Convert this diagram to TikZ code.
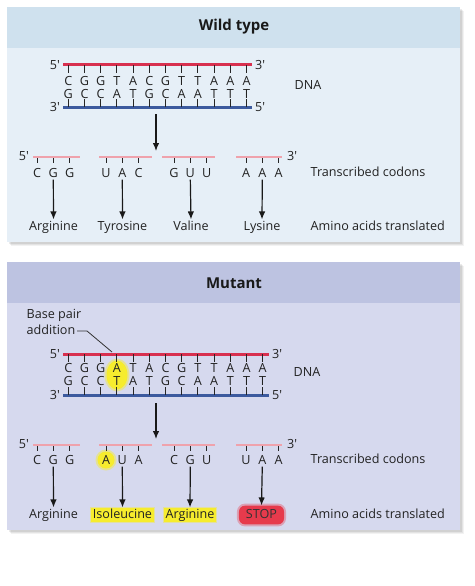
\documentclass[tikz,border=0pt]{standalone}
\usepackage{fontspec}
\setmainfont{Open Sans}
\usetikzlibrary{arrows.meta}
\definecolor{headA}{HTML}{CFE1EE}
\definecolor{bodyA}{HTML}{E6EFF7}
\definecolor{headB}{HTML}{BDC3E1}
\definecolor{bodyB}{HTML}{D6D9EE}
\definecolor{strandred}{HTML}{D8304F}
\definecolor{strandblue}{HTML}{3C5A9E}
\definecolor{mrna}{HTML}{EFA2AC}
\definecolor{hiyellow}{HTML}{F6EC2E}
\definecolor{stopred}{HTML}{E63A4C}
\definecolor{txt}{HTML}{222222}
\tikzset{
  lbl/.style={font=\fontsize{12.6}{14}\selectfont, text=txt, inner sep=1.5pt, text height=9pt, text depth=2.7pt},
  base/.style={font=\fontsize{12.6}{14}\selectfont, text=txt, inner sep=1pt, text height=9pt, text depth=0pt},
  prime/.style={font=\fontsize{12.6}{14}\selectfont, text=txt, inner xsep=3pt, inner ysep=0pt},
  title/.style={font=\fontsize{15}{17}\selectfont\bfseries, text=black!90},
  arr/.style={-{Latex[length=8pt,width=6.5pt]}, line width=1.2pt, black!90},
  tick/.style={line width=0.9pt, black!85},
  redline/.style={line width=3pt, strandred},
  blueline/.style={line width=3pt, strandblue},
  mline/.style={line width=2.6pt, mrna},
  hilite/.style={fill=hiyellow, inner xsep=2pt, preaction={draw=hiyellow, line width=2pt, opacity=0.4}},
  stopbox/.style={fill=stopred, rounded corners=6pt, inner xsep=7pt, inner ysep=3.5pt, text=black!80, preaction={draw=stopred, line width=4pt, opacity=0.35, rounded corners=6pt}},
}
\begin{document}
\begin{tikzpicture}[x=1pt,y=-1pt]
\useasboundingbox (0,0) rectangle (474,586);
\fill[white] (0,0) rectangle (474,586);
% ---------- panel shadows
\foreach \o/\op in {4/0.05,3/0.06,2/0.08} {
  \fill[black, opacity=\op] (7+\o,7+\o) rectangle (460+\o,242+\o);
  \fill[black, opacity=\op] (7+\o,262+\o) rectangle (460+\o,530+\o);
}
% ---------- Wild type panel
\fill[bodyA] (7,7) rectangle (460,242);
\fill[headA] (7,7) rectangle (460,48);
\node[title] (wt-title) at (234,27) {Wild type};
% DNA strands
\draw[redline] (63,65) coordinate (wt-ts) -- (252,65) coordinate (wt-te);
\draw[blueline] (63,107) coordinate (wt-bs) -- (252,107) coordinate (wt-be);
\node[prime, anchor=east] (wt-p5a) at (wt-ts) {5′};
\node[prime, anchor=west] (wt-p3a) at (wt-te) {3′};
\node[prime, anchor=east] (wt-p3b) at (wt-bs) {3′};
\node[prime, anchor=west] (wt-p5b) at (wt-be) {5′};
\foreach \b [count=\i] in {C,G,G,T,A,C,G,T,T,A,A,A} {
  \draw[tick] ({68.3+16.2*(\i-1)},65) -- ++(0,8);
  \node[base] (wt-t\i) at ({68.3+16.2*(\i-1)},81) {\b};
}
\foreach \b [count=\i] in {G,C,C,A,T,G,C,A,A,T,T,T} {
  \draw[tick] ({68.3+16.2*(\i-1)},107) -- ++(0,-8);
  \node[base] (wt-b\i) at ({68.3+16.2*(\i-1)},94) {\b};
}
\node[lbl, anchor=west] (wt-dna) at (293,86) {DNA};
\coordinate (wt-as) at (156,114);
\coordinate (wt-ae) at (156,151);
\draw[arr] (wt-as) -- (wt-ae);
% mRNA codons
\node[prime, anchor=east] (wt-m5) at (32,156) {5′};
\node[prime, anchor=west] (wt-m3) at (284,156) {3′};
\foreach \a/\b in {33/80,99/152,162/215,236/282} \draw[mline] (\a,157) -- (\b,157);
\foreach \b [count=\i] in {C,G,G,U,A,C,G,U,U,A,A,A} {
  \pgfmathsetmacro\g{int((\i-1)/3)}
  \pgfmathsetmacro\k{mod(\i-1,3)}
  \pgfmathsetmacro\xx{{37,106,174,246}[\g]+16.3*\k}
  \draw[tick] (\xx,158) -- ++(0,5);
  \node[base] (wt-c\i) at (\xx,173) {\b};
}
\node[lbl, anchor=west] (wt-tc) at (309,173) {Transcribed codons};
% amino acids
\node[lbl] (wt-aa1) at (53.5,227) {Arginine};
\node[lbl] (wt-aa2) at (122.5,227) {Tyrosine};
\node[lbl] (wt-aa3) at (191,227) {Valine};
\node[lbl] (wt-aa4) at (262,227) {Lysine};
\node[lbl, anchor=west] (wt-at) at (309,227) {Amino acids translated};
\foreach \c/\a in {2/1,5/2,8/3,11/4} \draw[arr, shorten <=1pt] (wt-c\c.south) -- (wt-aa\a.north);
% ---------- Mutant panel
\fill[bodyB] (7,262) rectangle (460,530);
\fill[headB] (7,262) rectangle (460,303);
\node[title] (mu-title) at (234,283) {Mutant};
\node[lbl, anchor=west] (mu-bp1) at (25,315) {Base pair};
\node[lbl, anchor=west] (mu-bp2) at (25,331) {addition};
\fill[hiyellow, opacity=0.45] (117,375) ellipse (12.5 and 16.5);
\fill[hiyellow] (117,375) ellipse (10.5 and 14.5);
\draw[redline] (63,354) coordinate (mu-ts) -- (269,354) coordinate (mu-te);
\draw[blueline] (63,395) coordinate (mu-bs) -- (269,395) coordinate (mu-be);
\node[prime, anchor=east] (mu-p5a) at (mu-ts) {5′};
\node[prime, anchor=west] (mu-p3a) at (mu-te) {3′};
\node[prime, anchor=east] (mu-p3b) at (mu-bs) {3′};
\node[prime, anchor=west] (mu-p5b) at (mu-be) {5′};
\coordinate (mu-bptip) at (112,352);
\draw[line width=0.8pt, black!80] (mu-bp2.east) -- ++(10,0) -- (mu-bptip);
\foreach \b [count=\i] in {C,G,G,A,T,A,C,G,T,T,A,A,A} {
  \draw[tick] ({68.3+16.2*(\i-1)},354) -- ++(0,8);
  \node[base] (mu-t\i) at ({68.3+16.2*(\i-1)},368) {\b};
}
\foreach \b [count=\i] in {G,C,C,T,A,T,G,C,A,A,T,T,T} {
  \draw[tick] ({68.3+16.2*(\i-1)},395) -- ++(0,-8);
  \node[base] (mu-b\i) at ({68.3+16.2*(\i-1)},381) {\b};
}
\node[lbl, anchor=west] (mu-dna) at (292,373) {DNA};
\coordinate (mu-as) at (156,403);
\coordinate (mu-ae) at (156,439);
\draw[arr] (mu-as) -- (mu-ae);
\node[prime, anchor=east] (mu-m5) at (32,444) {5′};
\node[prime, anchor=west] (mu-m3) at (284,444) {3′};
\foreach \a/\b in {33/80,99/152,162/215,236/282} \draw[mline] (\a,445) -- (\b,445);
\fill[hiyellow, opacity=0.45] (106,460) circle (10.5);
\fill[hiyellow] (106,460) circle (8.5);
\foreach \b [count=\i] in {C,G,G,A,U,A,C,G,U,U,A,A} {
  \pgfmathsetmacro\g{int((\i-1)/3)}
  \pgfmathsetmacro\k{mod(\i-1,3)}
  \pgfmathsetmacro\xx{{37,106,174,246}[\g]+16.3*\k}
  \draw[tick] (\xx,446) -- ++(0,5);
  \node[base] (mu-c\i) at (\xx,460) {\b};
}
\node[lbl, anchor=west] (mu-tc) at (309,460) {Transcribed codons};
\node[lbl] (mu-aa1) at (53.5,515) {Arginine};
\node[lbl, hilite] (mu-aa2) at (122.5,515) {Isoleucine};
\node[lbl, hilite] (mu-aa3) at (190,515) {Arginine};
\node[lbl, stopbox] (mu-aa4) at (261.5,515) {STOP};
\node[lbl, anchor=west] (mu-at) at (309,515) {Amino acids translated};
\foreach \c/\a in {2/1,5/2,8/3,11/4} \draw[arr, shorten <=1pt] (mu-c\c.south) -- (mu-aa\a.north);
\end{tikzpicture}
\end{document}
